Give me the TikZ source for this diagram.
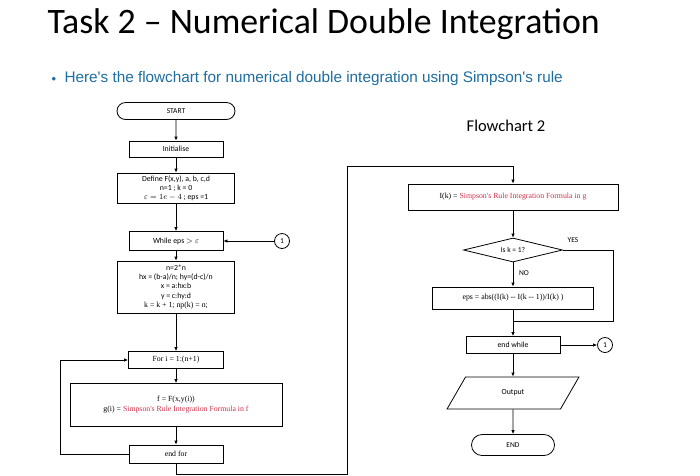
\documentclass[tikz,border=0pt]{standalone}
\usepackage{fontspec}
\setmainfont{Carlito}
\newfontfamily\tnr{Liberation Serif}
\newfontfamily\ars{Liberation Sans}
\usetikzlibrary{shapes.geometric,shapes.misc,arrows.meta}
\definecolor{simred}{RGB}{205,50,75}
\definecolor{bulblue}{RGB}{30,110,160}
\tikzset{x=1pt,y=-1pt,
 box/.style={draw,thick,minimum width=#1,inner sep=1pt,font=\fontsize{7.8}{9.2}\selectfont,align=center},
 box/.default=94pt,
 term/.style={draw,thick,rounded rectangle,inner sep=1pt,font=\fontsize{7.5}{8}\selectfont},
 conn/.style={draw,thick,circle,inner sep=0pt,minimum size=15pt,font=\fontsize{7.5}{8}\selectfont},
 arr/.style={thick,-{Latex[length=4pt,width=3.5pt]}},
 ln/.style={thick}}
\begin{document}
\begin{tikzpicture}
\useasboundingbox[fill=white] (0,0) rectangle (700,475);
\node[anchor=west,font=\fontsize{35.8}{38}\selectfont] (title) at (44,24) {Task 2 -- Numerical Double Integration};
\node[anchor=west,font=\ars\fontsize{15.3}{17}\selectfont,text=bulblue] (sub) at (61,79) {Here's the flowchart for numerical double integration using Simpson's rule};
\node[font=\ars\fontsize{13}{13}\selectfont,text=bulblue] (bul) at (54,80) {•};
\node[font=\fontsize{16.5}{18}\selectfont] (fc2) at (506,126) {Flowchart 2};
% left column
\node[term,minimum width=120pt,minimum height=17pt] (start) at (176,111) {START};
\node[box,minimum height=16pt] (init) at (176,149) {Initialise};
\node[box=117pt,minimum height=30pt] (def) at (176,188) {Define F(x,y), a, b, c,d\\ n=1 ; k = 0\\ $\varepsilon = 1e-4$ ;\ eps =1};
\node[box,minimum height=19pt] (while) at (176,241) {While eps $>\varepsilon$};
\node[conn] (c1a) at (282,241) {1};
\node[box=117pt,minimum height=52pt] (body) at (176,287) {n=2*n\\ hx = (b-a)/n; hy=(d-c)/n\\ x = a:hx:b\\ y = c:hy:d\\ {\tnr k = k + 1; np(k) = n;}};
\node[box=95pt,minimum height=17pt,font=\tnr\fontsize{7.8}{9}\selectfont] (for) at (176,360) {For i = 1:(n+1)};
\node[box=212pt,minimum height=43pt,font=\tnr\fontsize{7.8}{10}\selectfont] (fbox) at (176,405) {f = F(x,y(i))\\ g(i) = \textcolor{simred}{Simpson's Rule Integration Formula in f}};
\node[box=94pt,minimum height=18pt,font=\tnr\fontsize{7.8}{9}\selectfont] (endfor) at (176,454) {end for};
% right column
\node[box=210pt,minimum height=26pt,font=\tnr\fontsize{7.8}{9}\selectfont] (ik) at (513,197) {I(k) = \textcolor{simred}{Simpson's Rule Integration Formula in g}};
\node[draw,thick,diamond,aspect=4.1,inner sep=0.5pt,minimum width=99pt,minimum height=24pt,font=\fontsize{7.5}{8}\selectfont] (dec) at (513,250) {Is k = 1?};
\node[box=161pt,minimum height=22pt,font=\tnr\fontsize{7.8}{9}\selectfont] (eps) at (513,298) {eps = abs((I(k) -- I(k -- 1))/I(k) )};
\node[box=94pt,minimum height=17pt] (endw) at (513,345) {end while};
\node[conn] (c1b) at (605,345) {1};
\node[draw,thick,trapezium,trapezium left angle=60,trapezium right angle=120,minimum width=75pt,minimum height=32pt,inner sep=1pt,font=\fontsize{7.8}{8}\selectfont] (out) at (513,393) {Output};
\node[term,minimum width=85pt,minimum height=21pt] (end) at (513,445) {END};
\node[font=\fontsize{7.5}{8}\selectfont] (yes) at (573,240) {YES};
\node[font=\fontsize{7.5}{8}\selectfont] (no) at (524,273) {NO};
\coordinate (m) at (513,321);
% arrows
\draw[arr] (start) -- (init);
\draw[arr] (init) -- (def);
\draw[arr] (def) -- (while);
\draw[arr] (c1a) -- (while);
\draw[arr] (while) -- (body);
\draw[arr] (body) -- (for);
\draw[arr] (for) -- (fbox);
\draw[arr] (fbox) -- (endfor);
\draw[arr] (endfor.west) -- (60,454) -- (60,360) -- (for.west);
\draw[arr] (endfor.south) -- (176,474) -- (347,474) -- (347,166) -- (513,166) -- (ik.north);
\draw[arr] (ik) -- (dec);
\draw[arr] (dec) -- (eps);
\draw[ln] (dec.east) -- (613,250) -- (613,321) -- (m);
\draw[arr] (eps) -- (endw);
\draw[arr] (endw) -- (c1b);
\draw[arr] (endw) -- (out);
\draw[arr] (out) -- (end);
\end{tikzpicture}
\end{document}
